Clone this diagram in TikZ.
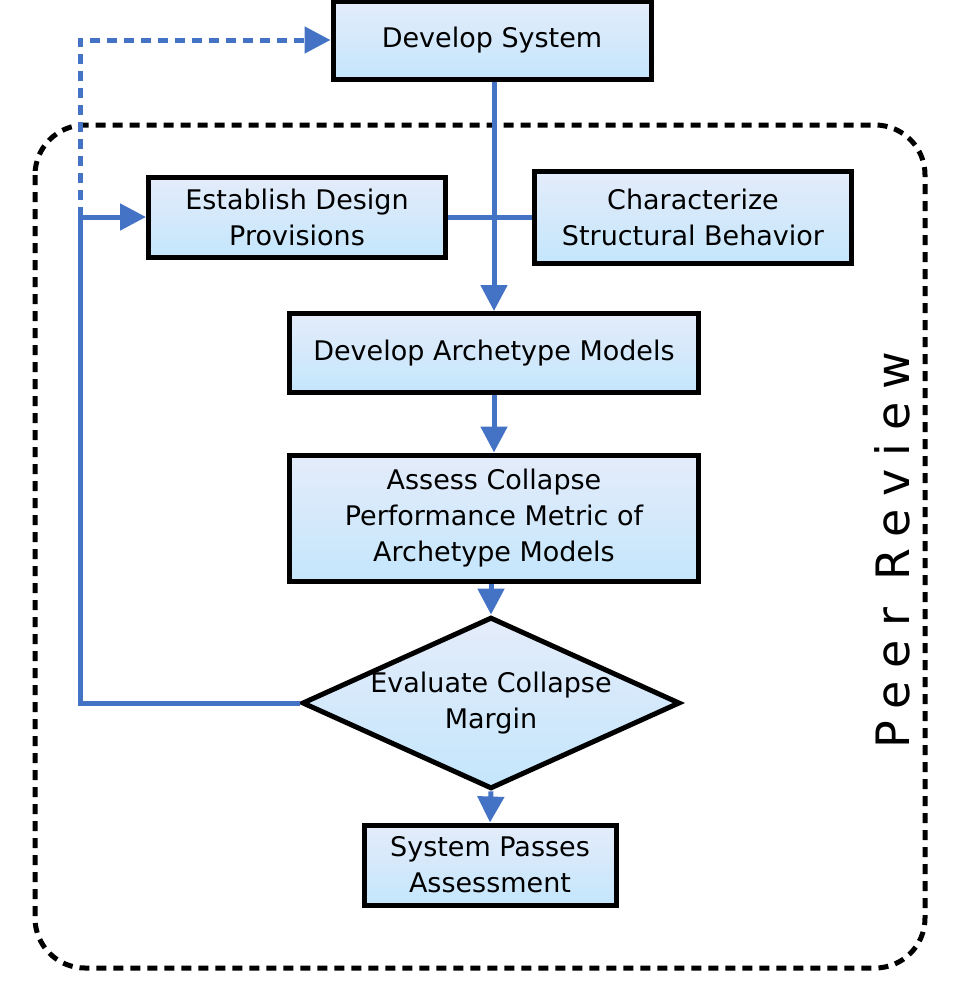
\documentclass[tikz,border=0pt]{standalone}
\usepackage{fontspec}
\setmainfont{DejaVu Sans}
\usetikzlibrary{shapes.geometric,arrows.meta}
\definecolor{flowblue}{RGB}{68,114,196}
\definecolor{shadetop}{RGB}{228,236,250}
\definecolor{shadebot}{RGB}{196,230,252}
\tikzset{
  stage/.style={draw=black,line width=5pt,top color=shadetop,bottom color=shadebot,align=center,
    font=\fontsize{27}{36}\selectfont,inner sep=0pt},
  decide/.style={stage,diamond,shape aspect=2.2},
  flow/.style={draw=flowblue,line width=5pt,-{Triangle[length=26pt,width=26pt]}},
  link/.style={draw=flowblue,line width=5pt}
}
\begin{document}
\begin{tikzpicture}[x=1pt,y=-1pt]
  \useasboundingbox (0,0) rectangle (954,988);
  % review frame
  \draw[line width=5pt,dash pattern=on 10pt off 7pt,rounded corners=50pt] (35,125) rectangle (925,968);
  \node[rotate=90,font=\fontsize{46}{50}\selectfont\addfontfeature{LetterSpace=28}] (peer) at (892,550) {Peer Review};
  % stages
  \node[stage,minimum width=318pt,minimum height=78pt] (sys) at (492,40) {Develop System};
  \node[stage,minimum width=297pt,minimum height=80pt] (prov) at (297,217) {Establish Design\\Provisions};
  \node[stage,minimum width=317pt,minimum height=92pt] (behav) at (693,217) {Characterize\\Structural Behavior};
  \node[stage,minimum width=409pt,minimum height=79pt] (arch) at (494,353) {Develop Archetype Models};
  \node[stage,minimum width=409pt,minimum height=126pt] (perf) at (494,518) {Assess Collapse\\Performance Metric of\\Archetype Models};
  \node[decide,minimum width=363pt,minimum height=164pt] (margin) at (491,703) {Evaluate Collapse\\Margin};
  \node[stage,minimum width=252pt,minimum height=80pt] (pass) at (490,865) {System Passes\\Assessment};
  \coordinate (loop) at (80,217);
  \coordinate (top) at (80,40);
  % connectors
  \draw[link] (prov.east) -- (behav.west);
  \draw[flow] (sys.south -| arch.north) -- (arch.north);
  \draw[flow] (arch) -- (perf);
  \draw[flow] (perf.south -| margin.north) -- (margin.north);
  \draw[flow] (margin.south) -- (pass.north);
  \draw[flow] (margin.west) -| (loop) -- (prov.west);
  \draw[flow,dash pattern=on 10pt off 7pt] (loop) -- (top) -- (sys.west);
\end{tikzpicture}
\end{document}
